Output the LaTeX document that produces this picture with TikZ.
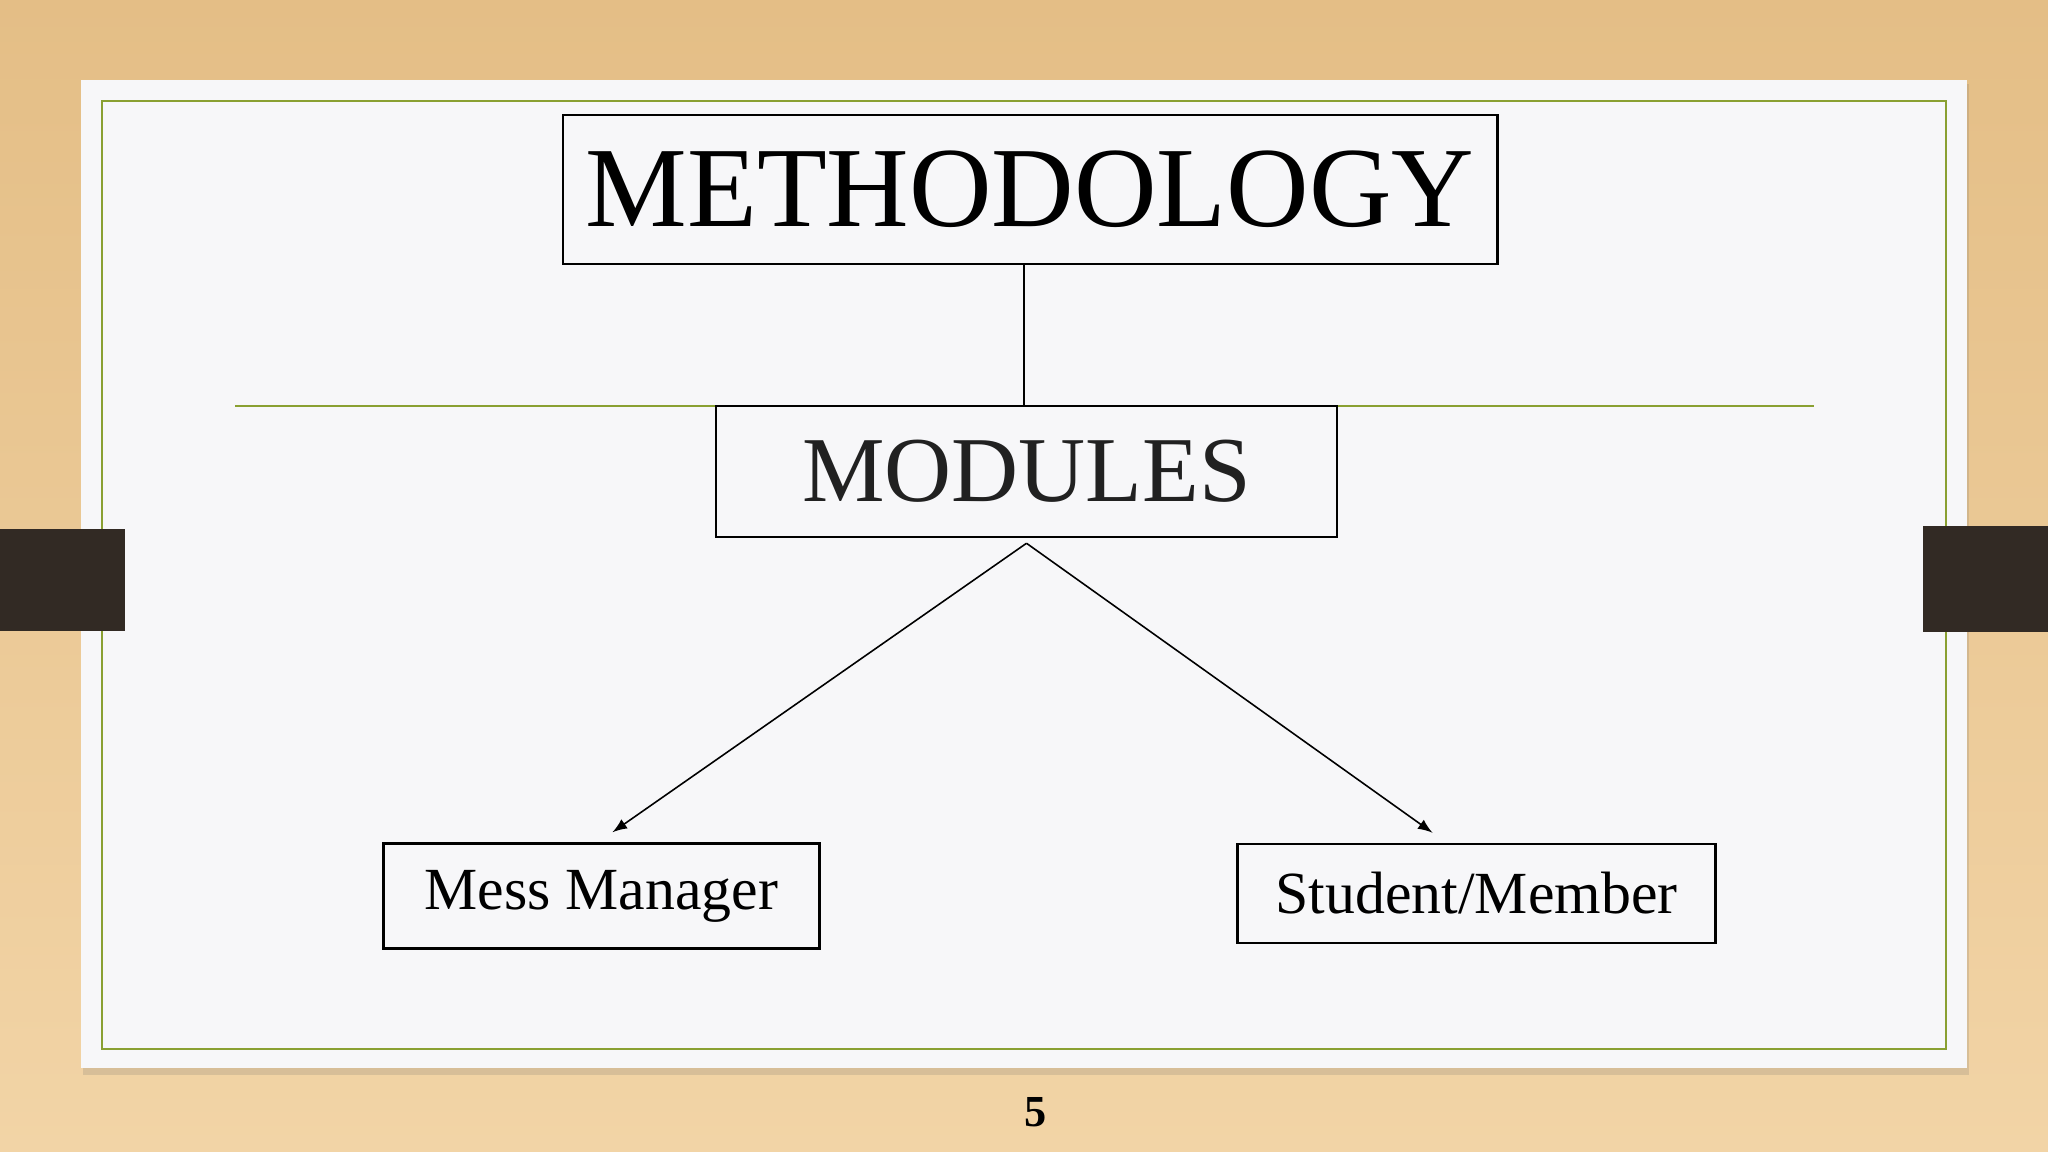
\documentclass[tikz,border=0pt]{standalone}
\usepackage{fontspec}
\setmainfont{Liberation Serif}
\usetikzlibrary{arrows,calc}
\definecolor{woodtop}{RGB}{228,190,134}
\definecolor{woodbot}{RGB}{242,212,166}
\definecolor{card}{RGB}{247,247,249}
\definecolor{olive}{RGB}{138,160,50}
\definecolor{tab}{RGB}{50,42,36}
\tikzset{
	box/.style      = {draw, line width=0.7pt, rectangle, fill=card, inner sep=0pt},
	link/.style     = {line width=0.45pt},
	frameline/.style = {draw=olive, line width=0.75pt}
}

\begin{document}
\begin{tikzpicture}[x=0.01cm, y=-0.01cm, >=latex]
	\useasboundingbox (0,0) rectangle (2048,1152);
	% slide background
	\shade[top color=woodtop, bottom color=woodbot] (0,0) rectangle (2048,1152);
	\fill[black!60, opacity=0.18] (83,84) rectangle (1969,1075);
	\fill[card] (81,80) rectangle (1967,1068);
	\draw[frameline] (102,101) rectangle (1946,1049);
	\draw[frameline] (235,406) -- (1814,406);
	\fill[tab] (0,529) rectangle (125,631);
	\fill[tab] (1923,526) rectangle (2048,632);
	
	\draw
	node at (1030,189.5) [box, minimum width=9.34cm, minimum height=1.49cm,
		font=\fontsize{32.5}{33}\selectfont] (meth) {METHODOLOGY}
	node at (1026.5,471.5) [box, minimum width=6.21cm, minimum height=1.31cm,
		text=black!87, font=\fontsize{26.4}{27}\selectfont] (mod) {MODULES}
	node at (601.5,896) [box, minimum width=4.36cm, minimum height=1.05cm,
		font=\fontsize{17}{17}\selectfont] (mess) {Mess Manager}
	node at (1476.5,893.5) [box, minimum width=4.78cm, minimum height=0.99cm,
		font=\fontsize{17}{17}\selectfont] (stud) {Student/Member}
	node at (1036,1112) [font=\bfseries\fontsize{12.6}{13}\selectfont] (pagenum) {5};
	
	\coordinate (fork) at ($(mod.south)+(0,5)$);
	\coordinate (messtip) at ($(mess.north)+(11,-10)$);
	\coordinate (studtip) at ($(stud.north)+(-44,-10)$);
	\draw[line width=0.65pt] (meth.south -| 1024,0) -- (mod.north -| 1024,0);
	\draw[link,->] (fork)--(messtip);
	\draw[link,->] (fork)--(studtip);
\end{tikzpicture}
\end{document}
